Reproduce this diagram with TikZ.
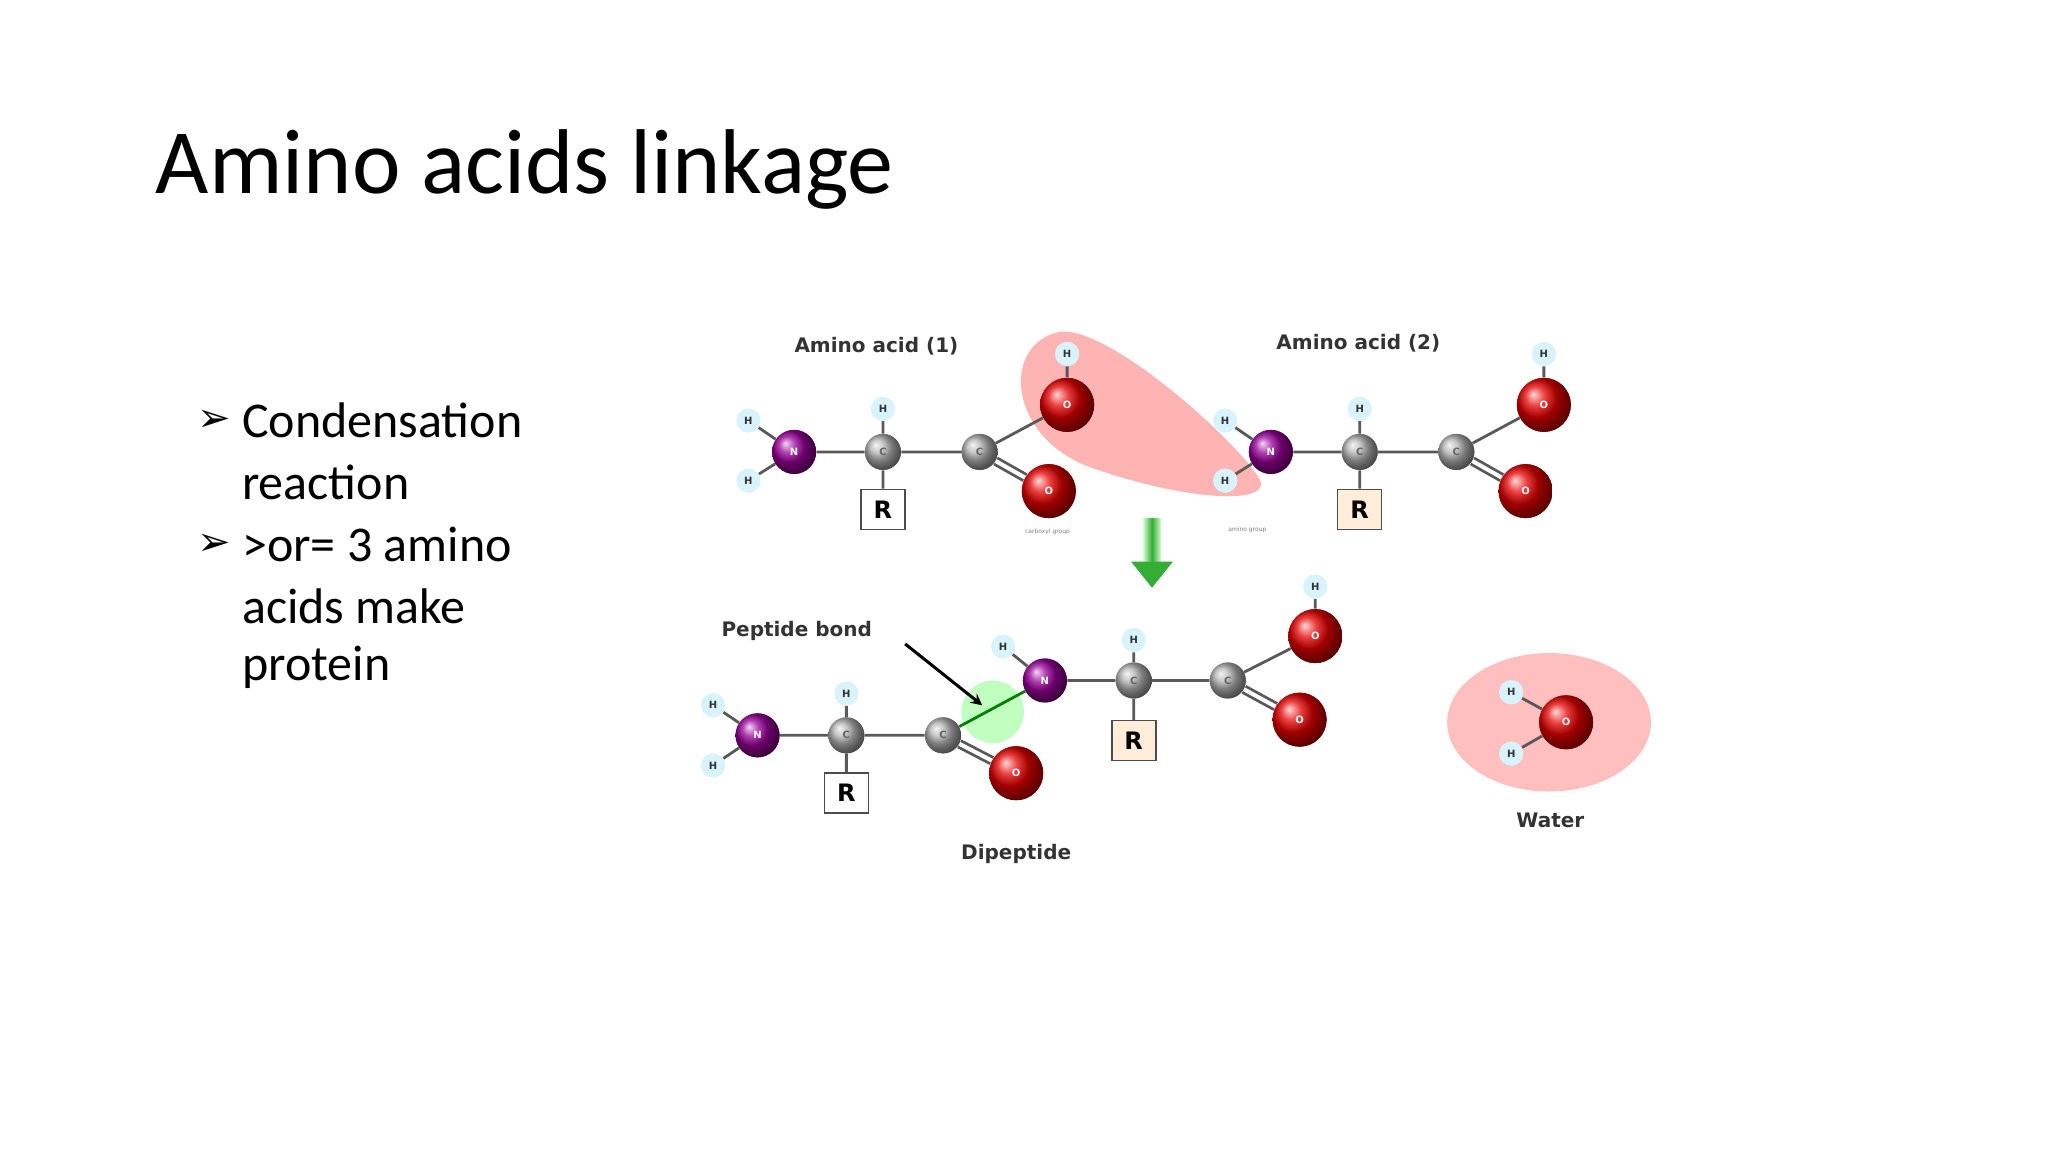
\documentclass[tikz,border=0pt]{standalone}
\usepackage{fontspec}
\setmainfont{Carlito}
\newfontfamily\dv{DejaVu Sans}
\begin{document}
\begin{tikzpicture}[x=0.653pt,y=-0.653pt,
 bond/.style={draw=gray!70!black,line width=1.4pt},
 atom/.style={circle,inner sep=0pt,font=\dv\bfseries\tiny,text=white},
 O/.style={atom,ball color=red!90!black,minimum size=27pt},
 N/.style={atom,ball color=violet!80!magenta,minimum size=22pt},
 C/.style={atom,ball color=gray!60,minimum size=18pt,text=black!60},
 H/.style={atom,circle,fill=cyan!15,minimum size=12pt,text=black!80,font=\dv\bfseries\tiny},
 R/.style={draw=black!70,line width=0.8pt,minimum width=22pt,minimum height=20pt,font=\dv\bfseries\large,inner sep=0pt},
 lbl/.style={font=\dv\bfseries\fontsize{10}{12}\selectfont,text=black!80},
 bullet/.style={font=\fontsize{25}{30}\selectfont,anchor=west}]
\useasboundingbox (0,0) rectangle (1568,882);
\node[anchor=west,font=\fontsize{46}{56}\selectfont] (title) at (114,130) {Amino acids linkage};
\node[bullet,font=\dv\fontsize{20}{24}\selectfont] (b1) at (146,322) {➢};
\node[bullet] (t1) at (180,322) {Condensation};
\node[bullet] (t1b) at (180,369) {reaction};
\node[bullet,font=\dv\fontsize{20}{24}\selectfont] (b2) at (146,417) {➢};
\node[bullet] (t2) at (180,417) {>or= 3 amino};
\node[bullet] (t2b) at (180,464) {acids make};
\node[bullet] (t2c) at (180,511) {protein};
% highlight blob
\fill[red!45,opacity=0.65] (812,254) .. controls (850,250) and (950,340) .. (965,368) .. controls (972,388) and (900,382) .. (830,356) .. controls (770,330) and (768,262) .. (812,254);
\node[lbl] (l1) at (671,265) {Amino acid (1)};
\node[lbl] (l2) at (1040,263) {Amino acid (2)};
\node[font=\dv\fontsize{3}{3}\selectfont,text=black!50] (cg) at (802,407) {carboxyl group};
\node[font=\dv\fontsize{3}{3}\selectfont,text=black!50] (ag) at (955,406) {amino group};
\foreach \p/\dx in {a/0,b/365}{
\begin{scope}[xshift=\dx*0.653pt]
\node[C] (\p c1) at (676,346) {C};
\node[C] (\p c2) at (750,346) {C};
\node[N] (\p n) at (608,346) {N};
\node[H] (\p h1) at (573,322) {H};
\node[H] (\p h2) at (573,368) {H};
\node[H] (\p h3) at (676,313) {H};
\node[O] (\p o1) at (817,310) {O};
\node[H] (\p h4) at (817,271) {H};
\node[O] (\p o2) at (803,376) {O};
\end{scope}}
\node[R,fill=white] (ar) at (676,390) {R};
\node[R,fill=orange!15] (br) at (1041,390) {R};
\foreach \p in {a,b}{
\draw[bond] (\p n)--(\p c1)--(\p c2)--(\p o1)--(\p h4);
\draw[bond] (\p n)--(\p h1) (\p n)--(\p h2) (\p c1)--(\p h3) (\p c1)--(\p r);
\draw[bond,double,double distance=2pt] (\p c2)--(\p o2);
}
\foreach \p/\dx in {a/0,b/365}{
\begin{scope}[xshift=\dx*0.653pt]
\node[C] at (676,346) {C};\node[C] at (750,346) {C};\node[N] at (608,346) {N};
\node[H] at (573,322) {H};\node[H] at (573,368) {H};\node[H] at (676,313) {H};
\node[O] at (817,310) {O};\node[H] at (817,271) {H};\node[O] at (803,376) {O};
\end{scope}}
% arrow
\fill[left color=green!15!white,right color=green!15!white,middle color=green!60!black!80] (875,397) rectangle (889,432);
\fill[green!60!black!80] (866,430)--(898,430)--(882,450)--cycle;
% dipeptide
\fill[green!35,opacity=0.7] (760,545) circle (24);
\node[C] (dc1) at (648,563) {C};
\node[C] (dc2) at (722,563) {C};
\node[N] (dn) at (580,563) {N};
\node[H] (dh1) at (546,540) {H};
\node[H] (dh2) at (546,586) {H};
\node[H] (dh3) at (648,531) {H};
\node[R,fill=white] (dr) at (648,607) {R};
\node[O] (do) at (778,592) {O};
\node[N] (en) at (800,521) {N};
\node[H] (eh) at (768,495) {H};
\node[C] (ec1) at (868,521) {C};
\node[H] (eh3) at (868,490) {H};
\node[R,fill=orange!15] (er) at (868,567) {R};
\node[C] (ec2) at (940,521) {C};
\node[O] (eo1) at (1007,487) {O};
\node[H] (eh4) at (1007,449) {H};
\node[O] (eo2) at (995,551) {O};
\draw[bond] (dn)--(dc1)--(dc2) (dn)--(dh1) (dn)--(dh2) (dc1)--(dh3) (dc1)--(dr);
\draw[bond,double,double distance=2pt] (dc2)--(do);
\draw[draw=green!50!black,line width=1.4pt] (dc2)--(en);
\draw[bond] (en)--(eh) (en)--(ec1)--(ec2)--(eo1)--(eh4) (ec1)--(eh3) (ec1)--(er);
\draw[bond,double,double distance=2pt] (ec2)--(eo2);
\foreach \s/\t in {C/{648,563}, C/{722,563}, N/{580,563}, H/{546,540}, H/{546,586}, H/{648,531}, O/{778,592}, N/{800,521}, H/{768,495}, C/{868,521}, H/{868,490}, C/{940,521}, O/{1007,487}, H/{1007,449}, O/{995,551}}
 {\node[\s] at (\t) {\s};}
\node[lbl] (pb) at (610,483) {Peptide bond};
\coordinate (pbt) at (752,540);
\draw[-stealth,line width=1.5pt] (693,493)--(pbt);
\node[lbl] (dp) at (778,654) {Dipeptide};
% water
\fill[red!25] (1186,553) ellipse (78 and 53);
\node[O] (wo) at (1199,553) {O};
\node[H] (wh1) at (1157,530) {H};
\node[H] (wh2) at (1157,577) {H};
\draw[bond] (wo)--(wh1) (wo)--(wh2);
\node[O] at (1199,553) {O};
\node[H] at (1157,530) {H};\node[H] at (1157,577) {H};
\node[lbl] (wl) at (1187,628) {Water};
\end{tikzpicture}
\end{document}
